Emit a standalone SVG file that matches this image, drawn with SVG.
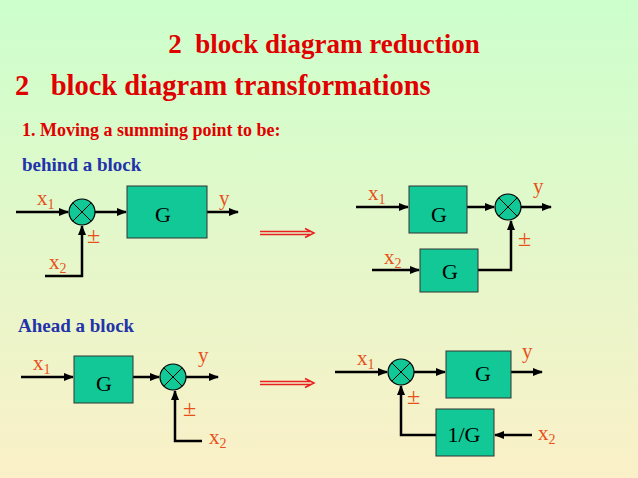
<svg xmlns="http://www.w3.org/2000/svg" width="638" height="478" viewBox="0 0 638 478">
<defs>
<linearGradient id="bg" x1="0" y1="0" x2="0" y2="1"><stop offset="0" stop-color="#ccffcc"/><stop offset="1" stop-color="#fbf0c8"/></linearGradient>
<marker id="ah" viewBox="0 0 10 10" refX="9" refY="5" markerWidth="4" markerHeight="4" orient="auto"><path d="M0,1 L10,5 L0,9 z" fill="#000"/></marker>
<style>
.blk{fill:#11c896;stroke:#333;stroke-width:1}
.sum{fill:#11c896;stroke:#000;stroke-width:1.2}
.ln{fill:none;stroke:#000;stroke-width:2.5}
.ar{marker-end:url(#ah)}
.lbl{font-family:"Liberation Serif",serif;font-size:21px;fill:#e8501a}
.pm{font-family:"Liberation Serif",serif;font-size:24px;fill:#e8501a}
.bt{font-family:"Liberation Serif",serif;font-size:22px;fill:#000;text-anchor:middle}
.h{font-family:"Liberation Serif",serif;font-weight:bold;fill:#e00000}
.b{font-family:"Liberation Serif",serif;font-weight:bold;fill:#2233aa;font-size:19px}
.red{fill:none;stroke:#e82020;stroke-width:1.5}
</style>
</defs>
<rect width="638" height="478" fill="url(#bg)"/>
<text class="h" x="324" y="53" font-size="27" text-anchor="middle" xml:space="preserve">2  block diagram reduction</text>
<text class="h" x="15" y="95" font-size="28.5" xml:space="preserve">2   block diagram transformations</text>
<text class="h" x="22" y="136" font-size="18">1. Moving a summing point to be:</text>
<text class="b" x="22" y="171">behind a block</text>
<text class="b" x="18" y="332">Ahead a block</text>

<g id="connectors">
<path class="ln ar" d="M16,212 H68"/>
<path class="ln ar" d="M95,212 H126"/>
<path class="ln ar" d="M207,212 H238"/>
<path class="ln ar" d="M45,276 H82 V226"/>
<path class="ln ar" d="M356,207 H408"/>
<path class="ln ar" d="M467,207 H494"/>
<path class="ln ar" d="M521,207 H551"/>
<path class="ln ar" d="M372,270 H419"/>
<path class="ln ar" d="M478,270 H511 V221"/>
<path class="ln ar" d="M21,377 H73"/>
<path class="ln ar" d="M133,377 H159"/>
<path class="ln ar" d="M186,377 H218"/>
<path class="ln ar" d="M202,441 H175 V391"/>
<path class="ln ar" d="M335,372 H387"/>
<path class="ln ar" d="M414,372 H445"/>
<path class="ln ar" d="M511,372 H542"/>
<path class="ln ar" d="M532,435 H495"/>
<path class="ln ar" d="M436,435 H401 V386"/>
<path class="red" d="M260,231.5 H311 M260,234.5 H311 M305,228.5 L314,233 L305,237.5"/>
<path class="red" d="M260,381.5 H311 M260,384.5 H311 M305,378.5 L314,383 L305,387.5"/>
</g>

<g id="sum1"><circle class="sum" cx="82" cy="212" r="13"/><path d="M72.8,202.8 L91.2,221.2 M91.2,202.8 L72.8,221.2" stroke="#000"/></g>
<g id="G1"><rect class="blk" x="127" y="186" width="80" height="52"/><text class="bt" x="163" y="222">G</text></g>
<g id="sum2"><circle class="sum" cx="508" cy="207" r="13"/><path d="M498.8,197.8 L517.2,216.2 M517.2,197.8 L498.8,216.2" stroke="#000"/></g>
<g id="G2"><rect class="blk" x="409" y="186" width="58" height="47"/><text class="bt" x="439" y="222">G</text></g>
<g id="G3"><rect class="blk" x="420" y="249" width="58" height="43"/><text class="bt" x="450" y="279">G</text></g>
<g id="G4"><rect class="blk" x="74" y="356" width="59" height="47"/><text class="bt" x="104" y="391">G</text></g>
<g id="sum3"><circle class="sum" cx="173" cy="377" r="13"/><path d="M163.8,367.8 L182.2,386.2 M182.2,367.8 L163.8,386.2" stroke="#000"/></g>
<g id="sum4"><circle class="sum" cx="401" cy="372" r="13"/><path d="M391.8,362.8 L410.2,381.2 M410.2,362.8 L391.8,381.2" stroke="#000"/></g>
<g id="G5"><rect class="blk" x="446" y="351" width="65" height="47"/><text class="bt" x="483" y="381">G</text></g>
<g id="G6"><rect class="blk" x="436" y="409" width="58" height="47"/><text class="bt" x="464" y="442">1/G</text></g>

<g id="labels">
<text class="lbl" x="37" y="205">x<tspan font-size="14" dy="4">1</tspan></text>
<text class="lbl" x="49" y="269">x<tspan font-size="14" dy="4">2</tspan></text>
<text class="lbl" x="219" y="205">y</text>
<text class="pm" x="87" y="243">±</text>
<text class="lbl" x="368" y="200">x<tspan font-size="14" dy="4">1</tspan></text>
<text class="lbl" x="384" y="264">x<tspan font-size="14" dy="4">2</tspan></text>
<text class="lbl" x="533" y="193">y</text>
<text class="pm" x="518" y="246">±</text>
<text class="lbl" x="33" y="370">x<tspan font-size="14" dy="4">1</tspan></text>
<text class="lbl" x="198" y="362">y</text>
<text class="pm" x="183" y="416">±</text>
<text class="lbl" x="209" y="444">x<tspan font-size="14" dy="4">2</tspan></text>
<text class="lbl" x="357" y="365">x<tspan font-size="14" dy="4">1</tspan></text>
<text class="lbl" x="522" y="358">y</text>
<text class="pm" x="407" y="404">±</text>
<text class="lbl" x="538" y="440">x<tspan font-size="14" dy="4">2</tspan></text>
</g>
</svg>
